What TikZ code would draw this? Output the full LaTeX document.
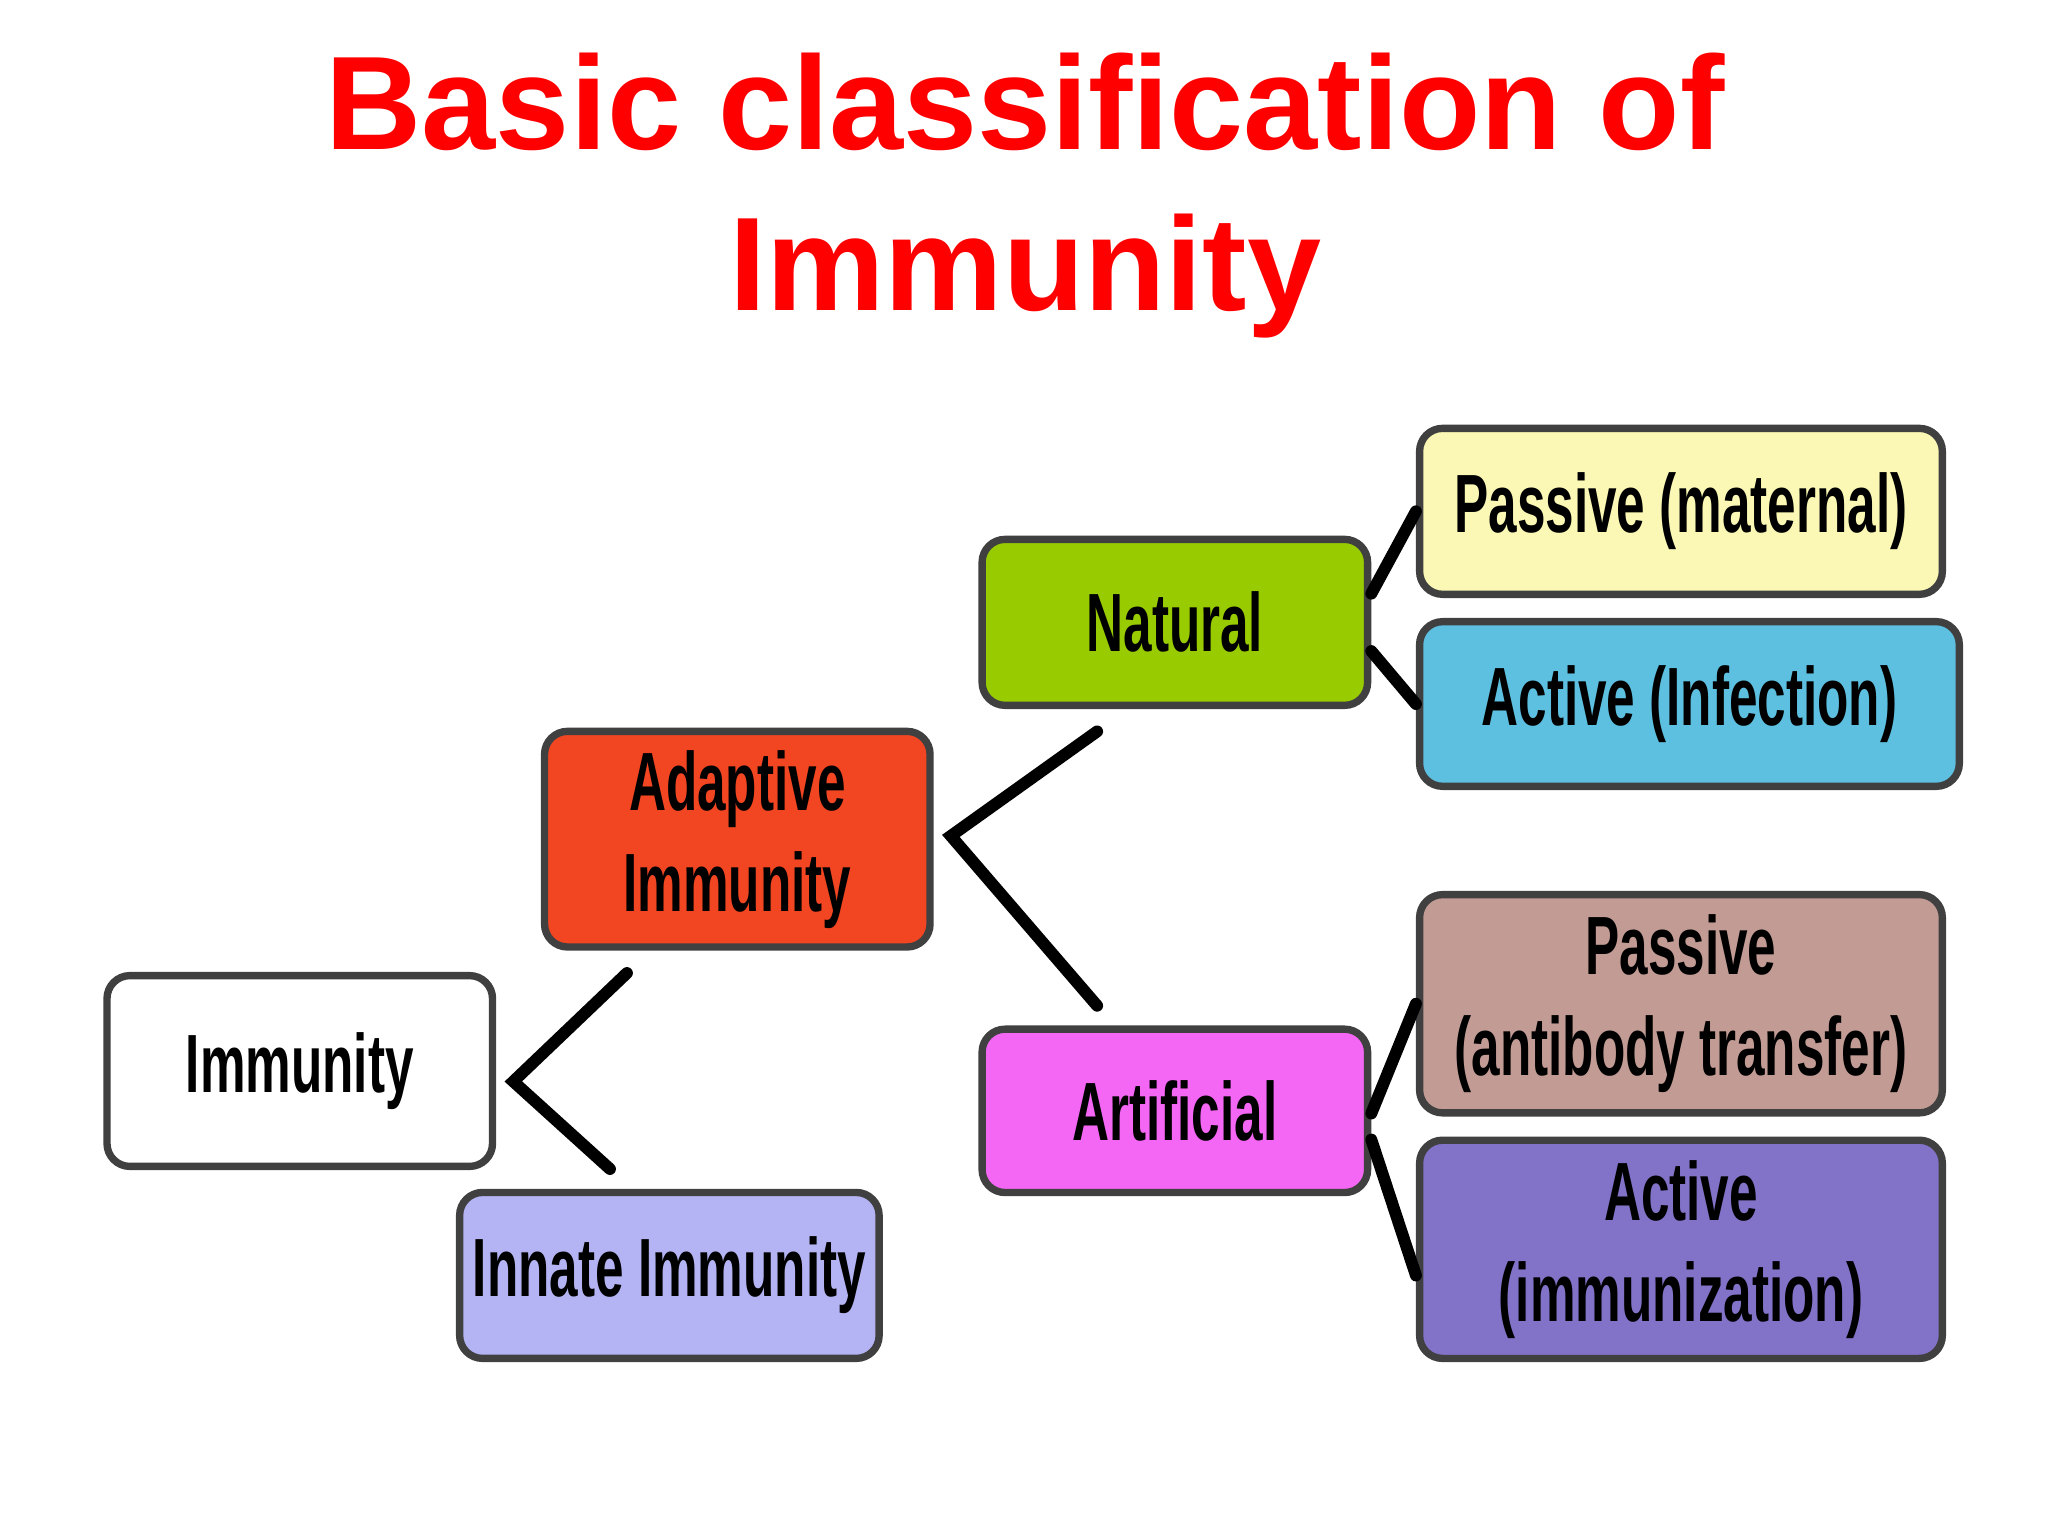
\documentclass[tikz,border=0pt]{standalone}
\usepackage{fontspec}
\setmainfont{Liberation Sans}
\newfontfamily\boxfont[FakeStretch=0.62]{Liberation Sans}
\begin{document}
\begin{tikzpicture}[x=0.01cm,y=-0.01cm,
  bx/.style={draw=black!75,line width=1.6pt,rounded corners=5pt,font=\boxfont\fontsize{18}{22}\selectfont\bfseries,align=center,inner sep=0pt},
  ln/.style={line width=2.6pt,line cap=round,line join=miter}]
\useasboundingbox[fill=white] (0,0) rectangle (1568,1176);
\node[text=red,font=\fontsize{29}{35}\selectfont\bfseries,align=center] (title) at (785,150) {Basic classification of\\[0pt]Immunity};
\newcommand\mybox[7]{\node[bx,fill=#6,minimum width=#4,minimum height=#5] (#1) at (#2,#3) {#7};}
\definecolor{cI}{HTML}{FFFFFF}
\definecolor{cN}{HTML}{B4B4F4}
\definecolor{cA}{HTML}{F24522}
\definecolor{cNat}{HTML}{99CC00}
\definecolor{cArt}{HTML}{F466F4}
\definecolor{cPM}{HTML}{FAF8B4}
\definecolor{cAI}{HTML}{5EC0E0}
\definecolor{cPA}{HTML}{C29C94}
\definecolor{cAZ}{HTML}{8272C8}
\mybox{imm}{229.5}{820}{2.95cm}{1.46cm}{cI}{Immunity}
\mybox{inn}{512.5}{976.5}{3.21cm}{1.27cm}{cN}{Innate Immunity}
\mybox{ada}{564.5}{642.5}{2.95cm}{1.65cm}{cA}{Adaptive\\Immunity}
\mybox{nat}{899.5}{476.5}{2.95cm}{1.27cm}{cNat}{Natural}
\mybox{art}{899.5}{850.5}{2.95cm}{1.25cm}{cArt}{Artificial}
\mybox{pm}{1287}{391.5}{4.0cm}{1.27cm}{cPM}{Passive (maternal)}
\mybox{ai}{1293.5}{539}{4.13cm}{1.26cm}{cAI}{Active (Infection)}
\mybox{pa}{1287}{768.5}{4.0cm}{1.67cm}{cPA}{Passive\\(antibody transfer)}
\mybox{az}{1287}{956.5}{4.0cm}{1.67cm}{cAZ}{Active\\(immunization)}
\coordinate (v1a) at (480,745); \coordinate (v1) at (393,828); \coordinate (v1b) at (467,895);
\coordinate (v2a) at (840,560); \coordinate (v2) at (728,640); \coordinate (v2b) at (840,770);
\draw[ln] (v1a) -- (v1) -- (v1b);
\draw[ln] (v2a) -- (v2) -- (v2b);
\draw[ln] (nat.east) ++(0,-22) -- (pm.west);
\draw[ln] (nat.east) ++(0,22) -- (ai.west);
\draw[ln] (art.east) ++(0,2) -- (pa.west);
\draw[ln] (art.east) ++(0,22) -- ([yshift=-0.2cm]az.west);
\end{tikzpicture}
\end{document}
